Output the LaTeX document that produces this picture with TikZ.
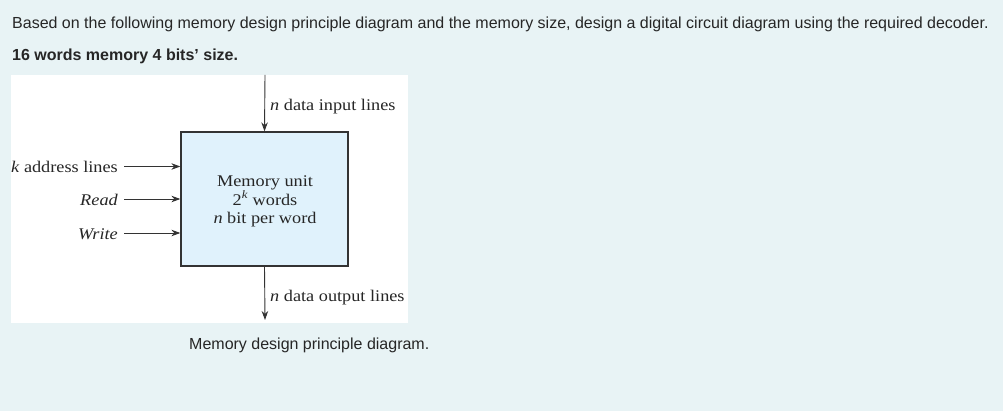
\documentclass[tikz,border=0pt]{standalone}
\usepackage{fontspec}
\setmainfont{Liberation Serif}
\newfontfamily\figfont[FakeStretch=1.12]{Liberation Serif}
\newfontfamily\pagefont{Liberation Sans}
\usetikzlibrary{arrows.meta}
\definecolor{pagebg}{HTML}{E8F3F5}
\definecolor{memfill}{HTML}{E0F2FC}
\definecolor{wire}{HTML}{333333}
\begin{document}
\begin{tikzpicture}[x=1pt, y=-1pt,
  every node/.style={inner sep=0pt},
  pagetext/.style={anchor=west, text=black!85, font=\pagefont\fontsize{16}{19}\selectfont},
  figtext/.style={text=black!85, font=\figfont\fontsize{16.3}{19}\selectfont},
  wire/.style={draw=wire, line width=0.9pt, -{Stealth[length=9pt,width=6.5pt]}}]
  \fill[pagebg] (0,0) rectangle (1003,411);
  \fill[white] (11,75) rectangle (408,323);

  \node[pagetext] (Q) at (12,24) {Based on the following memory design principle diagram and the memory size, design a digital circuit diagram using the required decoder.};
  \node[pagetext, font=\pagefont\bfseries\fontsize{16}{19}\selectfont] (S) at (12,56) {16 words memory 4 bits’ size.};

  \node[draw=wire, line width=1.3pt, fill=memfill, minimum width=167pt, minimum height=134pt] (M) at (264.5,199) {};
  \node[figtext, align=center] (MT) at (265,201.5) {Memory unit\\[-0.5pt] 2\textsuperscript{\textit{k}} words\\[-0.5pt] \textit{n} bit per word};

  \coordinate (inTop) at (265,75);
  \draw[wire] (inTop) -- (M.north);
  \node[figtext, anchor=west] (IN) at (270,106.5) {\textit{n} data input lines};

  \coordinate (outEnd) at (265,320);
  \draw[wire] (M.south) -- (outEnd);
  \node[figtext, anchor=west] (OUT) at (270,297.5) {\textit{n} data output lines};

  \node[figtext, anchor=east] (A) at (118,167) {\textit{k} address lines};
  \draw[wire] (124,166.5) -- (M.west |- 0,166.5);
  \node[figtext, anchor=east] (R) at (118,200) {\textit{Read}};
  \draw[wire] (124,199) -- (M.west |- 0,199);
  \node[figtext, anchor=east] (W) at (118,234) {\textit{Write}};
  \draw[wire] (124,233) -- (M.west |- 0,233);

  \node[pagetext] (C) at (189,345) {Memory design principle diagram.};
\end{tikzpicture}
\end{document}
